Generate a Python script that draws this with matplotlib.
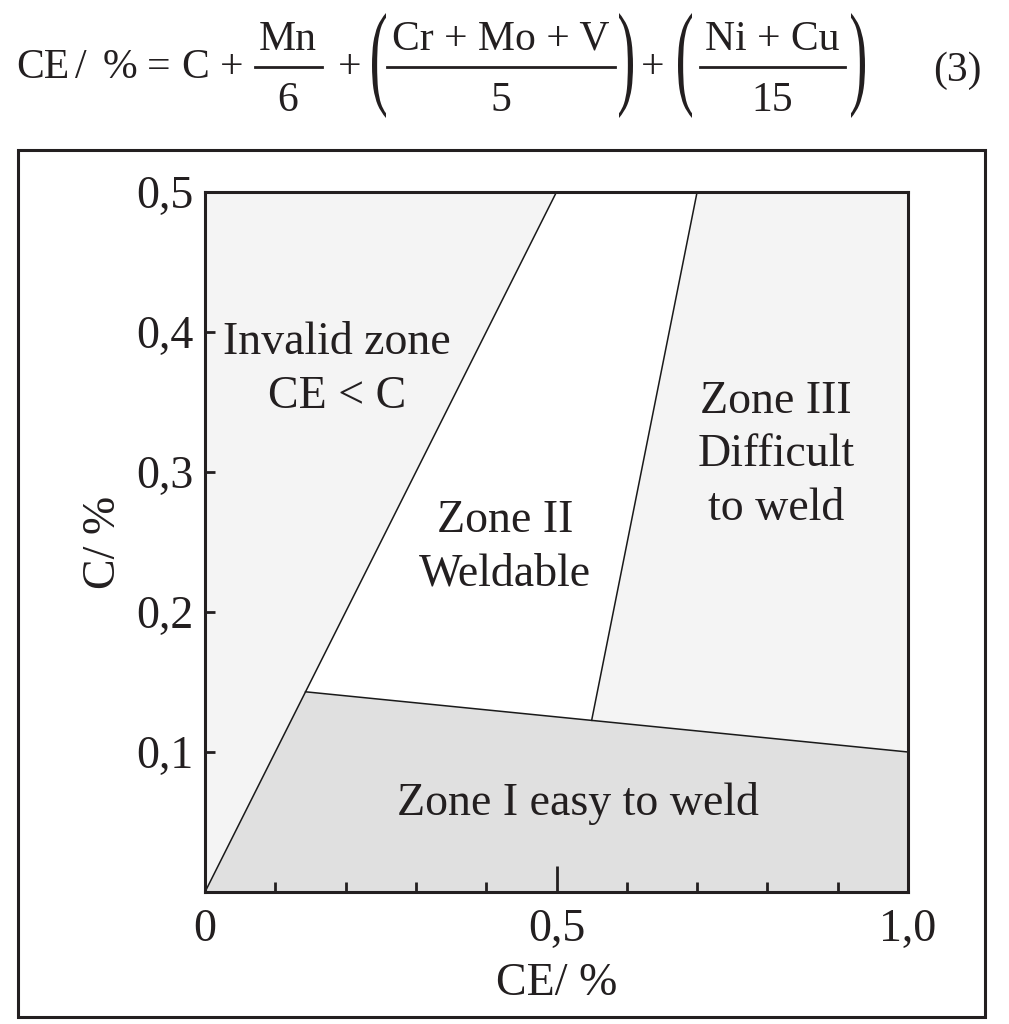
import matplotlib
matplotlib.use("Agg")
import matplotlib.pyplot as plt
from matplotlib.patches import Rectangle, PathPatch
from matplotlib.lines import Line2D
from matplotlib.ticker import MultipleLocator, FixedLocator
from matplotlib.textpath import TextPath
from matplotlib.font_manager import FontProperties
from matplotlib.transforms import Affine2D

plt.rcParams['font.family'] = ['Liberation Serif', 'DejaVu Serif']

# --- data ---
diag_ce = [0.0, 0.5]          # C = CE boundary
diag_c = [0.0, 0.5]
zone1_ce = [0.143, 1.0]       # upper boundary of zone I
zone1_c = [0.143, 0.100]
zone3_ce = [0.55, 0.70]       # boundary between zone II and III
zone3_c = [0.1226, 0.5]

x_ticks = [0.0, 0.5, 1.0]
x_ticklabels = ["0", "0,5", "1,0"]
y_ticks = [0.1, 0.2, 0.3, 0.4, 0.5]
y_ticklabels = ["0,1", "0,2", "0,3", "0,4", "0,5"]

labels = ["Invalid zone\nCE < C", "Zone II\nWeldable", "Zone III\nDifficult\nto weld", "Zone I easy to weld"]
label_x = [0.188, 0.427, 0.812, 0.530]
label_y = [0.373, 0.246, 0.312, 0.063]

INK = '#231f20'
W, H = 1009, 1024
fig = plt.figure(figsize=(W/100, H/100), dpi=100)
ax = fig.add_axes([205/W, 1-892/H, (908-205)/W, (892-192)/H])
ax.set_xlim(0, 1.0)
ax.set_ylim(0, 0.5)
ax.set_facecolor('white')

light = '#f4f4f4'
mid = '#e0e0e0'
ax.fill([diag_ce[0], diag_ce[1], 0.0], [diag_c[0], diag_c[1], 0.5], color=light, lw=0, zorder=1)
ax.fill([zone3_ce[0], zone3_ce[1], 1.0, zone1_ce[1]], [zone3_c[0], zone3_c[1], 0.5, zone1_c[1]], color=light, lw=0, zorder=1)
ax.fill([0.0, zone1_ce[0], zone1_ce[1], 1.0], [0.0, zone1_c[0], zone1_c[1], 0.0], color=mid, lw=0, zorder=1)

lc = '#1a1a1a'
ax.plot(diag_ce, diag_c, color=lc, lw=1.1, zorder=2)
ax.plot(zone1_ce, zone1_c, color=lc, lw=1.1, zorder=2)
ax.plot(zone3_ce, zone3_c, color=lc, lw=1.1, zorder=2)

for t, x, y in zip(labels, label_x, label_y):
    ax.text(x, y, t, ha='center', va='center', fontsize=33, color=INK, linespacing=1.33, zorder=3)

for s in ax.spines.values():
    s.set_linewidth(2.2)
    s.set_color(INK)

ax.xaxis.set_major_locator(FixedLocator(x_ticks))
ax.set_xticklabels(x_ticklabels)
ax.xaxis.set_minor_locator(MultipleLocator(0.1))
ax.yaxis.set_major_locator(FixedLocator(y_ticks))
ax.set_yticklabels(y_ticklabels)
ax.tick_params(axis='x', which='major', direction='in', length=19, width=2, labelsize=33, pad=12, colors=INK)
ax.tick_params(axis='x', which='minor', direction='in', length=7, width=2, colors=INK)
ax.tick_params(axis='y', which='major', direction='in', length=7, width=2, labelsize=33, pad=8, colors=INK)
ax.set_xlabel("CE/ %", fontsize=33, labelpad=8, color=INK)
ax.set_ylabel("C/ %", fontsize=33, labelpad=8, color=INK)

# outer frame
fig.patches.append(Rectangle((18/W, 1-1017/H), (985-18)/W, (1017-150)/H, transform=fig.transFigure,
                             fill=False, lw=2.2, edgecolor=INK))

# ---- equation (3), laid out piece by piece in pixel positions ----
EQ_FS = 30
def ptext(x, y, s, ha='left'):
    fig.text(x/W, 1-y/H, s, ha=ha, va='baseline', fontsize=EQ_FS, color=INK)

def pbar(x0, x1, y):
    fig.add_artist(Line2D([x0/W, x1/W], [1-y/H, 1-y/H], transform=fig.transFigure, color=INK, lw=2.0))

fp = FontProperties(family='Liberation Serif')
def paren(ch, x0, x1, ytop, ybot):
    tp = TextPath((0, 0), ch, size=100, prop=fp)
    ext = tp.get_extents()
    sx = (x1 - x0) / ext.width
    sy = (ybot - ytop) / ext.height
    tr = (Affine2D().translate(-ext.x0, -ext.y0).scale(sx, sy)
          .translate(x0, H - ybot).scale(1/W, 1/H))
    fig.add_artist(PathPatch(tr.transform_path(tp), transform=fig.transFigure, color=INK, lw=0))

BASE = 78
ptext(16, BASE, "CE")
ptext(75, BASE, "/")
ptext(103, BASE, "%")
ptext(147, BASE, "=")
ptext(181, BASE, "C")
ptext(220, BASE, "+")
ptext(288, 50, "Mn", ha='center')
pbar(255, 322, 67)
ptext(288, 111, "6", ha='center')
ptext(338, BASE, "+")
paren("(", 372, 386, 13, 118)
ptext(501, 50, "Cr + Mo + V", ha='center')
pbar(387, 615, 67)
ptext(501, 111, "5", ha='center')
paren(")", 619, 633, 13, 118)
ptext(641, BASE, "+")
paren("(", 678, 692, 13, 118)
ptext(772, 50, "Ni + Cu", ha='center')
pbar(700, 845, 67)
ptext(772, 111, "15", ha='center')
paren(")", 851, 865, 13, 118)
ptext(982, 81, "(3)", ha='right')

fig.savefig("out.png", dpi=100)
